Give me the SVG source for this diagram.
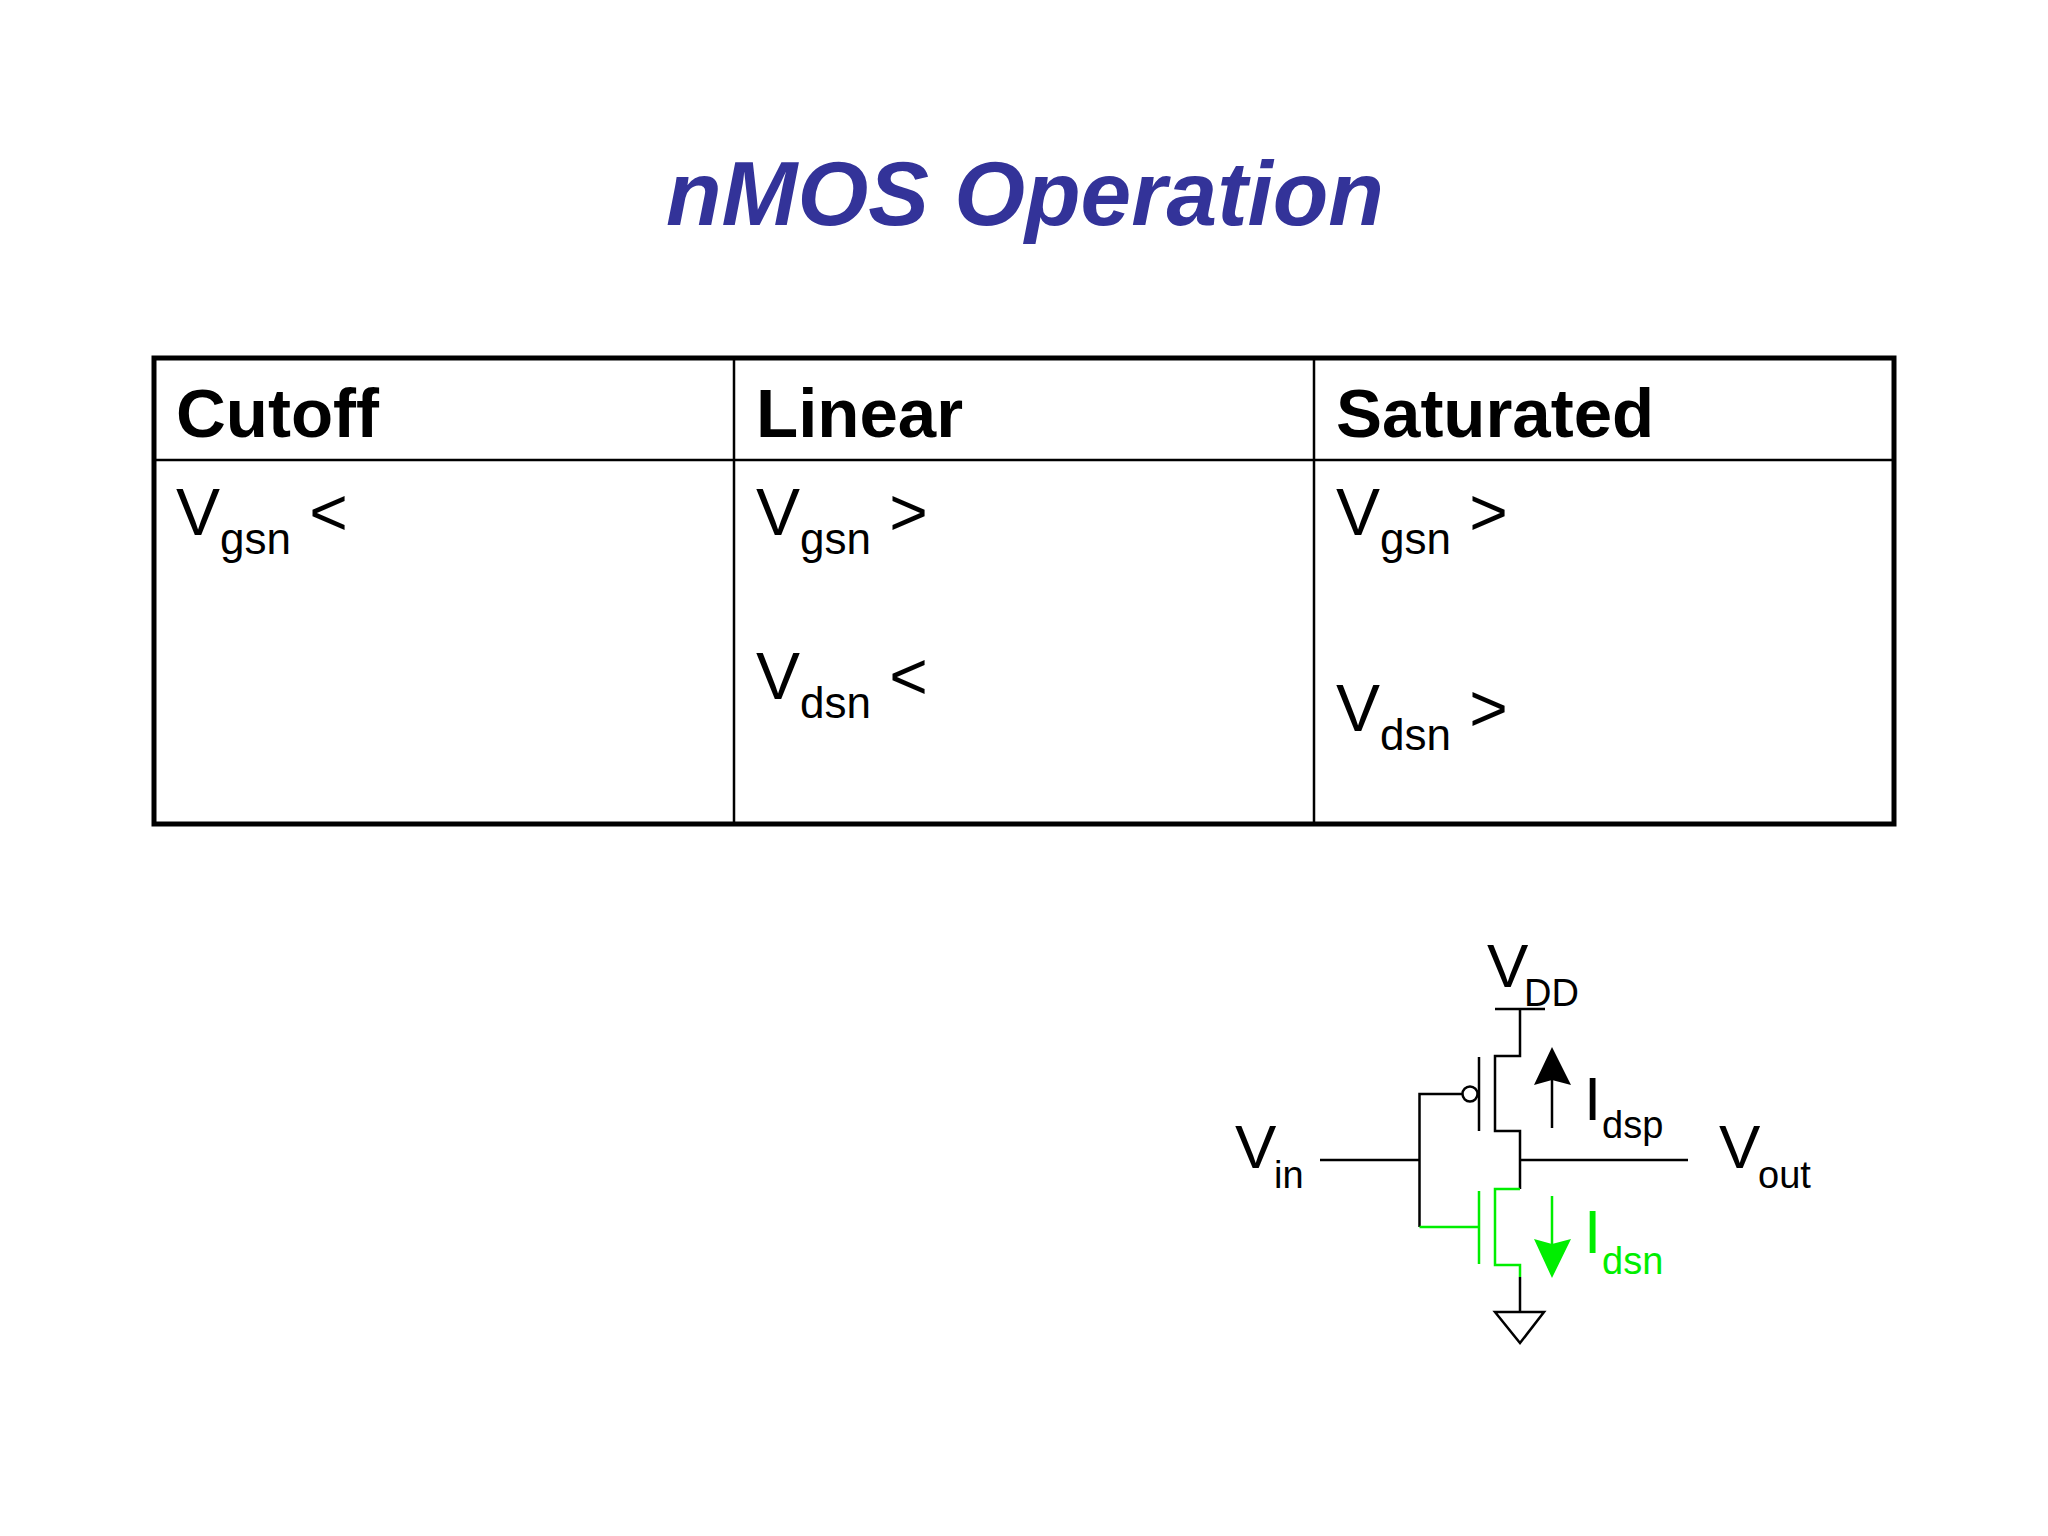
<svg xmlns="http://www.w3.org/2000/svg" width="2048" height="1536" viewBox="0 0 2048 1536">
<style>
text{font-family:"Liberation Sans",Arial,sans-serif}
.h{font-weight:bold;font-size:69px}
.b{font-size:66px}
.s{font-size:44px}
.k{stroke:#000;stroke-width:2.5;fill:none}
.g{stroke:#00ee00;stroke-width:2.5;fill:none}
.cv{font-size:62px}
.cs{font-size:38px}
</style>
<rect width="2048" height="1536" fill="#fff"/>
<text x="1025" y="225" text-anchor="middle" font-size="91" font-weight="bold" font-style="italic" fill="#333399">nMOS Operation</text>
<g id="table">
<rect x="154" y="358" width="1740" height="466" fill="none" stroke="#000" stroke-width="5"/>
<line x1="154" y1="460" x2="1894" y2="460" stroke="#000" stroke-width="2.5"/>
<line x1="734" y1="358" x2="734" y2="824" stroke="#000" stroke-width="2.5"/>
<line x1="1314" y1="358" x2="1314" y2="824" stroke="#000" stroke-width="2.5"/>
<text class="h" x="176" y="437">Cutoff</text>
<text class="h" x="756" y="437">Linear</text>
<text class="h" x="1336" y="437">Saturated</text>
<text class="b" x="176" y="535">V<tspan class="s" dy="19">gsn</tspan><tspan dy="-19"> &lt;</tspan></text>
<text class="b" x="756" y="535">V<tspan class="s" dy="19">gsn</tspan><tspan dy="-19"> &gt;</tspan></text>
<text class="b" x="756" y="699">V<tspan class="s" dy="19">dsn</tspan><tspan dy="-19"> &lt;</tspan></text>
<text class="b" x="1336" y="535">V<tspan class="s" dy="19">gsn</tspan><tspan dy="-19"> &gt;</tspan></text>
<text class="b" x="1336" y="731">V<tspan class="s" dy="19">dsn</tspan><tspan dy="-19"> &gt;</tspan></text>
</g>
<g id="circuit">
<line class="k" x1="1495" y1="1009" x2="1545" y2="1009"/>
<polyline class="k" points="1520,1009 1520,1056 1495,1056 1495,1131 1520,1131 1520,1189"/>
<line class="k" x1="1479" y1="1057" x2="1479" y2="1131"/>
<circle class="k" cx="1470" cy="1094" r="7.5"/>
<polyline class="k" points="1462.5,1094 1419.5,1094 1419.5,1227"/>
<line class="k" x1="1320" y1="1160" x2="1419.5" y2="1160"/>
<line class="k" x1="1520" y1="1160" x2="1688" y2="1160"/>
<line class="g" x1="1419.5" y1="1227" x2="1479" y2="1227"/>
<line class="g" x1="1479" y1="1191" x2="1479" y2="1264"/>
<polyline class="g" points="1520,1189 1495,1189 1495,1265 1520,1265 1520,1277"/>
<line class="k" x1="1520" y1="1277" x2="1520" y2="1312"/>
<polygon class="k" points="1495,1312 1544,1312 1520,1343"/>
<line class="k" x1="1552" y1="1128" x2="1552" y2="1080"/>
<polygon fill="#000" points="1552,1047 1534,1085 1552,1080 1571,1085"/>
<line class="g" x1="1552" y1="1196" x2="1552" y2="1244"/>
<polygon fill="#00ee00" points="1552,1278 1534,1239 1552,1244 1571,1239"/>
<text class="cv" x="1487" y="987">V<tspan class="cs" x="1524" y="1006">DD</tspan></text>
<text class="cv" x="1235" y="1168">V<tspan class="cs" x="1274" y="1188">in</tspan></text>
<text class="cv" x="1719" y="1168">V<tspan class="cs" x="1758" y="1188">out</tspan></text>
<text class="cv" x="1584" y="1120">I<tspan class="cs" x="1602" y="1138">dsp</tspan></text>
<text class="cv" x="1584" y="1253" fill="#00ee00">I<tspan class="cs" x="1602" y="1274">dsn</tspan></text>
</g>
</svg>
